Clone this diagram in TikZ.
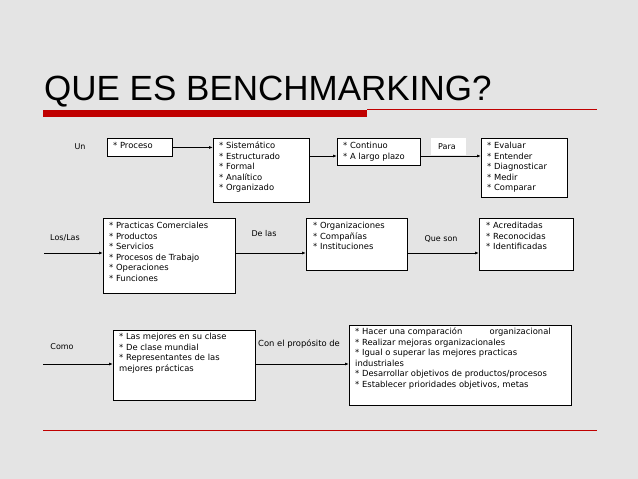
\documentclass[tikz,border=0pt]{standalone}
\usepackage{fontspec}
\setmainfont{DejaVu Sans}
\newfontfamily\titlefont{Liberation Sans}
\usetikzlibrary{arrows.meta}
\definecolor{bg}{RGB}{228,228,228}
\definecolor{redbar}{RGB}{192,0,0}
\begin{document}
\begin{tikzpicture}[x=1pt,y=-1pt,
  box/.style={draw,fill=white,line width=0.9pt,anchor=north west,inner sep=0pt},
  txt/.style={anchor=north west,align=left,font=\fontsize{8.4}{10.5}\selectfont,inner sep=0pt},
  lbl/.style={font=\fontsize{8}{9}\selectfont,inner sep=1pt},
  arr/.style={-{Latex[length=4pt,width=3pt]},line width=0.8pt}]
\useasboundingbox (0,0) rectangle (638,479);
\fill[bg] (0,0) rectangle (638,479);
\node[anchor=base west,font=\titlefont\fontsize{35}{38}\selectfont,inner sep=0pt] (title) at (44,100) {QUE ES BENCHMARKING?};
\fill[redbar] (43,110) rectangle (367,117);
\draw[redbar,line width=0.7pt] (367,109.5) -- (597,109.5);
% row 1
\node[lbl] (un) at (80,147) {Un};
\node[box,minimum width=65,minimum height=18] (b1) at (107,138) {};
\node[txt] (t1) at (113,142) {* Proceso};
\node[box,minimum width=96,minimum height=64] (b2) at (213,138) {};
\node[txt] (t2) at (219,142) {* Sistemático\\* Estructurado\\* Formal\\* Analítico\\* Organizado};
\node[box,minimum width=83,minimum height=27] (b3) at (337,138) {};
\node[txt] (t3) at (343,142) {* Continuo\\* A largo plazo};
\node[fill=white,anchor=north west,minimum width=35,minimum height=17,inner sep=0pt] (para) at (431,138) {};
\node[lbl] (paral) at (447,147) {Para};
\node[box,minimum width=86,minimum height=59] (b4) at (481,138) {};
\node[txt] (t4) at (487,142) {* Evaluar\\* Entender\\* Diagnosticar\\* Medir\\* Comparar};
\draw[arr] (b1.east) -- (b2.west |- b1.east);
\draw[arr] (b2.east |- 0,156) -- (b3.west |- 0,156);
\draw[arr] (b3.east |- 0,156) -- (b4.west |- 0,156);
% row 2
\coordinate (s2) at (44,253);
\node[lbl] (los) at (65,238) {Los/Las};
\node[box,minimum width=132,minimum height=75] (c1) at (103,218) {};
\node[txt] (u1) at (109,222) {* Practicas Comerciales\\* Productos\\* Servicios\\* Procesos de Trabajo\\* Operaciones\\* Funciones};
\node[lbl] (delas) at (264,234) {De las};
\node[box,minimum width=101,minimum height=52] (c2) at (306,218) {};
\node[txt] (u2) at (313,222) {* Organizaciones\\* Compañías\\* Instituciones};
\node[lbl] (queson) at (441,239) {Que son};
\node[box,minimum width=94,minimum height=52] (c3) at (479,218) {};
\node[txt] (u3) at (486,222) {* Acreditadas\\* Reconocidas\\* Identificadas};
\draw[arr] (s2) -- (c1.west |- s2);
\draw[arr] (c1.east |- s2) -- (c2.west |- s2);
\draw[arr] (c2.east |- s2) -- (c3.west |- s2);
% row 3
\coordinate (s3) at (43,364);
\node[lbl] (como) at (62,347) {Como};
\node[box,minimum width=142,minimum height=70] (d1) at (113,330) {};
\node[txt] (v1) at (119,333) {* Las mejores en su clase\\* De clase mundial\\* Representantes de las\\mejores prácticas};
\node[lbl,anchor=west,font=\fontsize{8.4}{9}\selectfont] (prop) at (257,344) {Con el propósito de};
\node[box,minimum width=222,minimum height=80] (d2) at (349,325) {};
\node[txt] (v2) at (355,328) {* Hacer una comparación \hspace{22pt} organizacional\\* Realizar mejoras organizacionales\\* Igual o superar las mejores practicas\\industriales\\* Desarrollar objetivos de productos/procesos\\* Establecer prioridades objetivos, metas};
\draw[arr] (s3) -- (d1.west |- s3);
\draw[arr] (d1.east |- s3) -- (d2.west |- s3);
\draw[redbar,line width=0.7pt] (43,430) -- (597,430);
\end{tikzpicture}
\end{document}
